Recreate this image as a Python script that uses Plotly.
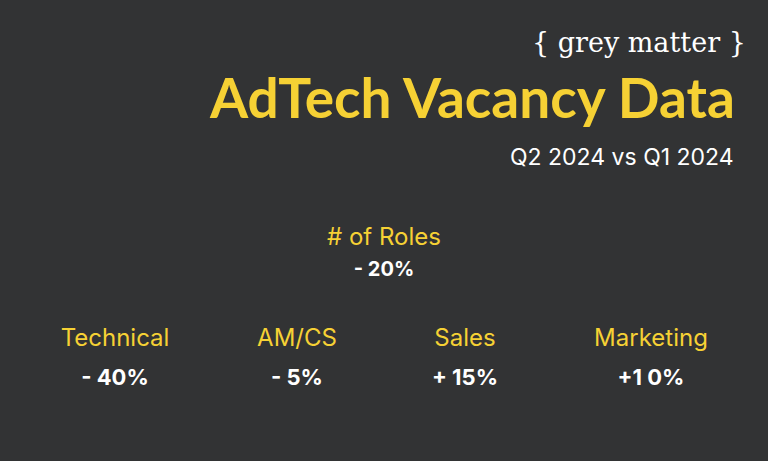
import plotly.graph_objects as go

categories = ["Technical", "AM/CS", "Sales", "Marketing"]
changes = ["- 40%", "- 5%", "+ 15%", "+1 0%"]
total_label = "# of Roles"
total_change = "- 20%"
title = "AdTech Vacancy Data"
subtitle = "Q2 2024 vs Q1 2024"
brand = "{ grey matter }"

YEL = "#F6D134"
BG = "#323334"
cat_x = [115, 297, 465, 651]

fig = go.Figure()
fig.add_trace(go.Scatter(x=cat_x, y=[461-340]*4, mode="text", text=categories,
                         textfont=dict(color=YEL, size=24, family="Inter"), hoverinfo="skip"))
fig.add_trace(go.Scatter(x=cat_x, y=[461-379]*4, mode="text", text=[f"<b>{c}</b>" for c in changes],
                         textfont=dict(color="white", size=22, family="Inter"), hoverinfo="skip"))
fig.add_trace(go.Scatter(x=[384], y=[461-239], mode="text", text=[total_label],
                         textfont=dict(color=YEL, size=24, family="Inter"), hoverinfo="skip"))
fig.add_trace(go.Scatter(x=[384], y=[461-271], mode="text", text=[f"<b>{total_change}</b>"],
                         textfont=dict(color="white", size=20, family="Inter"), hoverinfo="skip"))

fig.add_annotation(x=737, y=461-97, text=f"<b>{title}</b>", showarrow=False, xanchor="right",
                   font=dict(color=YEL, size=55, family="Lato"))
fig.add_annotation(x=736, y=461-157, text=subtitle, showarrow=False, xanchor="right",
                   font=dict(color="white", size=23, family="Inter"))
fig.add_annotation(x=748, y=461-42, text=brand, showarrow=False, xanchor="right",
                   font=dict(color="white", size=27, family="DejaVu Serif"))

fig.update_layout(width=768, height=461, margin=dict(l=0, r=0, t=0, b=0),
                  paper_bgcolor=BG, plot_bgcolor=BG, showlegend=False,
                  xaxis=dict(range=[0, 768], visible=False, fixedrange=True),
                  yaxis=dict(range=[0, 461], visible=False, fixedrange=True))
fig.write_html("out.html", config={"displayModeBar": False},
               post_script="document.body.style.margin='0';document.body.style.background='#323334';")
